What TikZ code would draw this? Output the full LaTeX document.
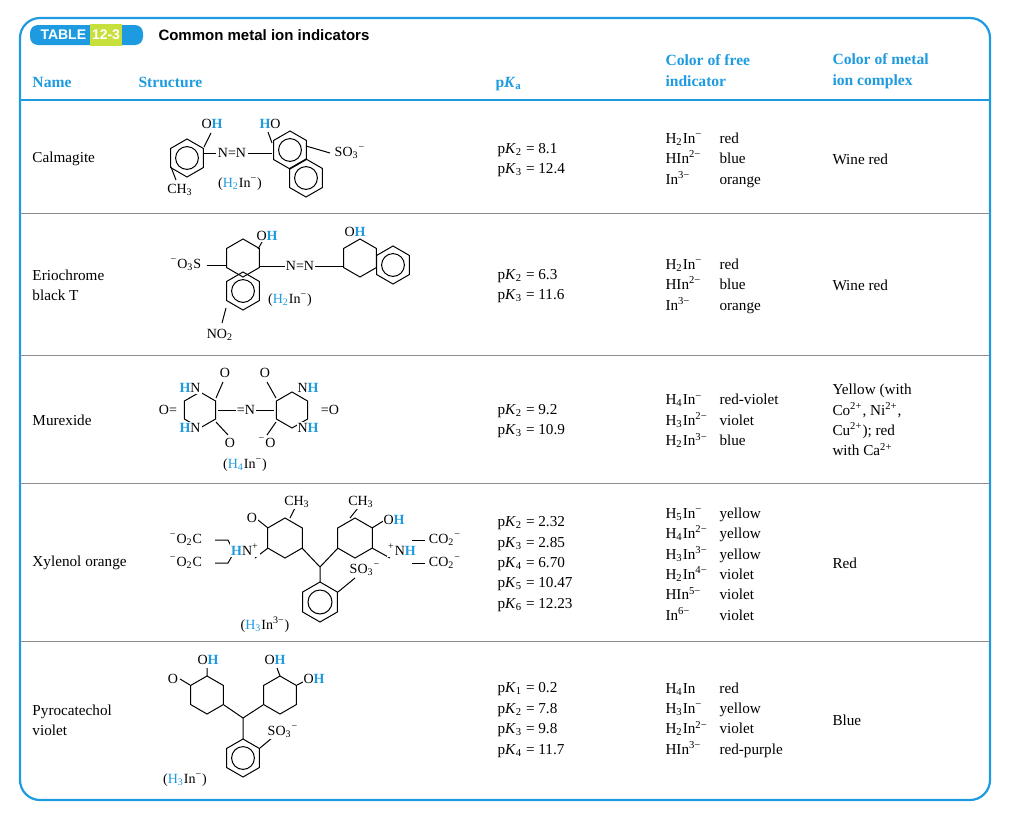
\documentclass[tikz,border=0pt]{standalone}
\usepackage{fontspec}
\setmainfont{Liberation Serif}
\setsansfont{Liberation Sans}
\definecolor{hb}{HTML}{1E9BE0}
\definecolor{tabg}{HTML}{C8E03C}
\newcommand\sbs[1]{\textsubscript{#1}}
\newcommand\sps[1]{\textsuperscript{#1}}
\newcommand\fm[2]{\makebox[27pt][l]{#1}#2}
\newcommand\pk[2]{p\textit{K}\sbs{#1} = #2}
\newcommand\hexg[3]{\draw (#1,#2) +(30:#3) -- +(90:#3) -- +(150:#3) -- +(210:#3) -- +(270:#3) -- +(330:#3) -- cycle;}
\newcommand\hexc[3]{\hexg{#1}{#2}{#3}\draw (#1,#2) circle[radius=#3*0.3pt];}
\newcommand\hh{\textcolor{hb}{\textbf{H}}}
\begin{document}
\begin{tikzpicture}[x=0.5pt,y=-0.5pt,
 t/.style={anchor=west,inner sep=0,font=\fontsize{7.6}{10.2}\selectfont,align=left},
 h/.style={t,text=hb,font=\fontsize{7.8}{10.5}\selectfont\bfseries},
 c/.style={anchor=center,inner sep=0.5,fill=white,font=\fontsize{7}{8}\selectfont},
 sep/.style={draw=black!45,line width=0.5pt},
 every path/.style={line width=0.5pt}]
\useasboundingbox (0,0) rectangle (1024,815);
\draw[hb,line width=1.1pt,rounded corners=10] (20,18) rectangle (990,800);
\node[fill=hb,rounded corners=4,minimum width=113*0.5pt,minimum height=20*0.5pt,inner sep=0] (tab) at (86.5,35) {};
\node[anchor=west,inner sep=0,text=white,font=\sffamily\bfseries\fontsize{7}{8}\selectfont] (tabt) at (40,35) {TABLE \colorbox{tabg}{\hspace{-2pt}12-3\hspace{-2pt}}};
\node[anchor=west,inner sep=0,font=\sffamily\bfseries\fontsize{7.5}{9}\selectfont] (title) at (158,35) {Common metal ion indicators};
\node[h] (hn) at (32,82) {Name};
\node[h] (hs) at (138,82) {Structure};
\node[h] (hp) at (495,84) {p\textit{K}\sbs{a}};
\node[h] (hc) at (665,71) {Color of free\\indicator};
\node[h] (hm) at (832,71) {Color of metal\\ion complex};
\draw[hb,line width=0.8pt] (20,100) -- (990,100);
\foreach \yy in {213,355,483,641} \draw[sep] (20,\yy) -- (990,\yy);
% ---- rows: names
\node[t] (n1) at (32,159) {Calmagite};
\node[t] (n2) at (32,285) {Eriochrome\\black T};
\node[t] (n3) at (32,420) {Murexide};
\node[t] (n4) at (32,563) {Xylenol orange};
\node[t] (n5) at (32,720) {Pyrocatechol\\violet};
% pK
\node[t] (p1) at (497,160) {\pk{2}{8.1}\\\pk{3}{12.4}};
\node[t] (p2) at (497,286) {\pk{2}{6.3}\\\pk{3}{11.6}};
\node[t] (p3) at (497,421) {\pk{2}{9.2}\\\pk{3}{10.9}};
\node[t] (p4) at (497,564) {\pk{2}{2.32}\\\pk{3}{2.85}\\\pk{4}{6.70}\\\pk{5}{10.47}\\\pk{6}{12.23}};
\node[t] (p5) at (497,720) {\pk{1}{0.2}\\\pk{2}{7.8}\\\pk{3}{9.8}\\\pk{4}{11.7}};
% colours
\node[t] (c1) at (665,160) {\fm{H\sbs{2}In\sps{−}}{red}\\\fm{HIn\sps{2−}}{blue}\\\fm{In\sps{3−}}{orange}};
\node[t] (c2) at (665,286) {\fm{H\sbs{2}In\sps{−}}{red}\\\fm{HIn\sps{2−}}{blue}\\\fm{In\sps{3−}}{orange}};
\node[t] (c3) at (665,421) {\fm{H\sbs{4}In\sps{−}}{red-violet}\\\fm{H\sbs{3}In\sps{2−}}{violet}\\\fm{H\sbs{2}In\sps{3−}}{blue}};
\node[t] (c4) at (665,564) {\fm{H\sbs{5}In\sps{−}}{yellow}\\\fm{H\sbs{4}In\sps{2−}}{yellow}\\\fm{H\sbs{3}In\sps{3−}}{yellow}\\\fm{H\sbs{2}In\sps{4−}}{violet}\\\fm{HIn\sps{5−}}{violet}\\\fm{In\sps{6−}}{violet}};
\node[t] (c5) at (665,720) {\fm{H\sbs{4}In}{red}\\\fm{H\sbs{3}In\sps{−}}{yellow}\\\fm{H\sbs{2}In\sps{2−}}{violet}\\\fm{HIn\sps{3−}}{red-purple}};
\node[t] (m1) at (832,159) {Wine red};
\node[t] (m2) at (832,285) {Wine red};
\node[t] (m3) at (832,420) {Yellow (with\\Co\sps{2+}, Ni\sps{2+},\\Cu\sps{2+}); red\\with Ca\sps{2+}};
\node[t] (m4) at (832,563) {Red};
\node[t] (m5) at (832,720) {Blue};
% ---- Calmagite
\hexc{187}{158}{19}
\hexc{290}{150}{19}
\hexc{306}{178}{19}
\draw (203,153) -- (216,153) (248,153) -- (272,153);
\node[c] (a1) at (232,153) {N=N};
\draw (204,147) -- (211,133) (272,143) -- (268,132);
\draw (306,146) -- (330,153);
\node[c] (o1) at (212,124) {O\hh};
\node[c] (o2) at (270,124) {\hh O};
\node[c] (s1) at (350,153) {SO\sbs{3}\sps{−}};
\draw (171,167) -- (176,180);
\node[c] (m1c) at (180,190) {CH\sbs{3}};
\node[c] (x1) at (240,184) {(\textcolor{hb}{H\sbs{2}}In\sps{−})};
% ---- Eriochrome
\hexg{243}{258}{19}
\hexc{243}{291}{19}
\hexg{360}{258}{19}
\hexc{393}{265}{19}
\node[c] (s2) at (186,265) {\sps{−}O\sbs{3}S};
\draw (207,265) -- (226,265);
\draw (260,266) -- (288,266) (313,266) -- (343,266);
\node[c] (a4) at (300,266) {N=N};
\draw (258,249) -- (262,242);
\node[c] (o3) at (267,236) {O\hh};
\node[c] (o4) at (355,232) {O\hh};
\draw (226,308) -- (222,323);
\node[c] (no) at (220,335) {NO\sbs{2}};
\node[c] (x2) at (290,300) {(\textcolor{hb}{H\sbs{2}}In\sps{−})};
% ---- Murexide
\hexg{200}{410}{18}
\hexg{292}{410}{18}
\draw (218,410) -- (274,410);
\node[c] (a7) at (246,410) {=N};
\node[c] (n1a) at (190,388) {\hh N};
\node[c] (n1b) at (190,428) {\hh N};
\node[c] (o5) at (168,410) {O=};
\node[c] (o6) at (225,373) {O};
\node[c] (o7) at (230,443) {O};
\node[c] (o8) at (265,373) {O};
\node[c] (o9) at (267,443) {\sps{−}O};
\node[c] (n1c) at (308,388) {N\hh};
\node[c] (n1d) at (308,428) {N\hh};
\node[c] (o10) at (330,410) {=O};
\draw (216,398) -- (223,382) (216,422) -- (228,435) (276,398) -- (267,382) (276,422) -- (267,435);
\node[c] (x3) at (245,465) {(\textcolor{hb}{H\sbs{4}}In\sps{−})};
% ---- Xylenol orange
\hexg{285}{538}{20}
\hexg{355}{538}{20}
\hexc{320}{602}{20}
\draw (302,548) -- (320,567) -- (338,548) (320,567) -- (320,582);
\draw (268,528) -- (258,520) (290,518) -- (295,508) (350,518) -- (358,508) (372,528) -- (385,520);
\node[c] (o11) at (252,518) {O};
\node[c] (ch1) at (297,502) {CH\sbs{3}};
\node[c] (ch2) at (361,502) {CH\sbs{3}};
\node[c] (o12) at (394,520) {O\hh};
\draw (268,548) -- (255,558) (372,548) -- (390,558);
\draw (215,540) -- (228,540) -- (232,548) (215,563) -- (228,563) -- (232,556);
\draw (425,540) -- (412,540) (425,563) -- (412,563);
\node[c] (hn1) at (245,550) {\hh N\sps{+}};
\node[c] (hn2) at (402,550) {\sps{+}N\hh};
\node[c] (co1) at (186,540) {\sps{−}O\sbs{2}C};
\node[c] (co2) at (186,563) {\sps{−}O\sbs{2}C};
\node[c] (co3) at (445,540) {CO\sbs{2}\sps{−}};
\node[c] (co4) at (445,563) {CO\sbs{2}\sps{−}};
\draw (338,592) -- (355,578);
\node[c] (so1) at (365,570) {SO\sbs{3}\sps{−}};
\node[c] (x4) at (265,625) {(\textcolor{hb}{H\sbs{3}}In\sps{3−})};
% ---- Pyrocatechol violet
\hexg{207}{695}{19}
\hexg{280}{695}{19}
\hexc{243}{758}{19}
\draw (224,705) -- (243,718) -- (263,705) (243,718) -- (243,739);
\draw (190,685) -- (180,679) (207,676) -- (207,668) (280,676) -- (277,668) (297,685) -- (305,681);
\node[c] (o13) at (173,679) {O};
\node[c] (o14) at (208,660) {O\hh};
\node[c] (o15) at (275,660) {O\hh};
\node[c] (o16) at (314,679) {O\hh};
\draw (260,748) -- (272,738);
\node[c] (so2) at (283,732) {SO\sbs{3}\sps{−}};
\node[c] (x5) at (185,780) {(\textcolor{hb}{H\sbs{3}}In\sps{−})};
\end{tikzpicture}
\end{document}
